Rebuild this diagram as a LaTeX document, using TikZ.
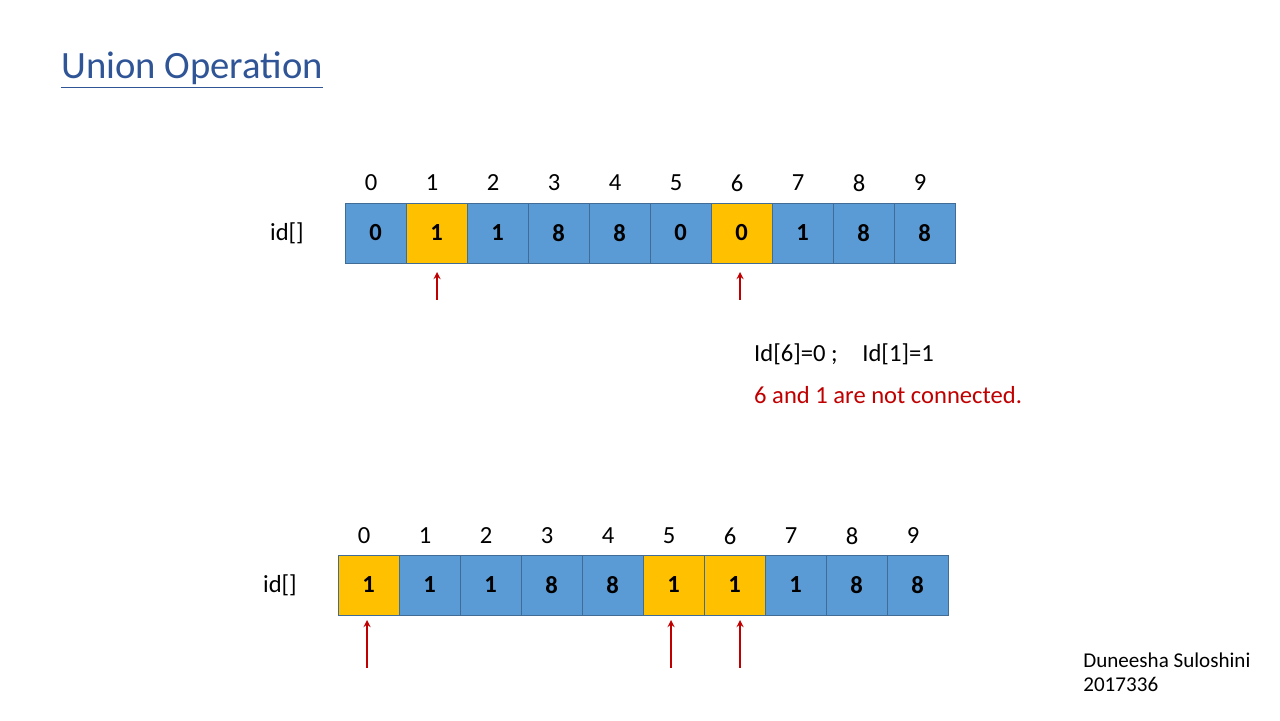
\documentclass[tikz,border=0pt]{standalone}
\usepackage{fontspec}
\setmainfont{Carlito}
\usepackage{tikz}
\usetikzlibrary{positioning}
\definecolor{cellblue}{HTML}{5B9BD5}
\definecolor{cellgold}{HTML}{FFC000}
\definecolor{darkred}{HTML}{C00000}
\definecolor{titleblue}{HTML}{2F5597}

\begin{document}
\begin{tikzpicture}
[x=0.02cm, y=-0.02cm,
  cell/.style={rectangle, draw=cellblue!70!black, line width=0.3pt, fill=cellblue,
    minimum width=1.22cm, minimum height=1.2cm, inner sep=0pt, font=\fontsize{14}{16}\selectfont\bfseries},
  hot/.style={fill=cellgold},
  idx/.style={font=\fontsize{14}{16}\selectfont},
  ptr/.style={->, draw=darkred, line width=0.8pt, >=stealth}]
  \useasboundingbox (0,0) rectangle (1280,720);
  \node[anchor=west, text=titleblue, font=\fontsize{22}{26}\selectfont] (title) at (55,70) {\underline{Union Operation}};
  % first array
  \node[idx, anchor=east] (lblA) at (310,233) {id[]};
  \foreach \v [count=\i from 0] in {0,1,1,8,8,0,0,1,8,8} {
    \ifnum\i=1 \def\st{hot}\else\ifnum\i=6 \def\st{hot}\else\def\st{}\fi\fi
    \node[cell, \st] (a\i) at (375.5+61*\i,233) {\v};
    \node[idx] (ai\i) at (371+61*\i,183) {\i};
  }
  \foreach \x/\n in {437/1,740/6} {
    \coordinate (ta\n) at (\x,300);
    \coordinate (ha\n) at (\x,272);
    \draw[ptr] (ta\n) -- (ha\n);
  }
  \node[idx, anchor=west] (note) at (748,354) {Id[6]=0 ;\quad Id[1]=1};
  \node[idx, anchor=west, text=darkred] (msg) at (748,395) {6 and 1 are not connected.};
  % second array
  \node[idx, anchor=east] (lblB) at (303,585) {id[]};
  \foreach \v [count=\i from 0] in {1,1,1,8,8,1,1,1,8,8} {
    \ifnum\i=0 \def\st{hot}\else\ifnum\i=5 \def\st{hot}\else\ifnum\i=6 \def\st{hot}\else\def\st{}\fi\fi\fi
    \node[cell, \st] (b\i) at (368.5+61*\i,585) {\v};
    \node[idx] (bi\i) at (364+61*\i,536) {\i};
  }
  \foreach \x/\n in {367/0,671/5,740/6} {
    \coordinate (tb\n) at (\x,668);
    \coordinate (hb\n) at (\x,620);
    \draw[ptr] (tb\n) -- (hb\n);
  }
  \node[anchor=north west, align=left, inner sep=0pt, font=\fontsize{12}{14}\selectfont] (author) at (1083,652) {Duneesha Suloshini\\2017336};
\end{tikzpicture}
\end{document}
